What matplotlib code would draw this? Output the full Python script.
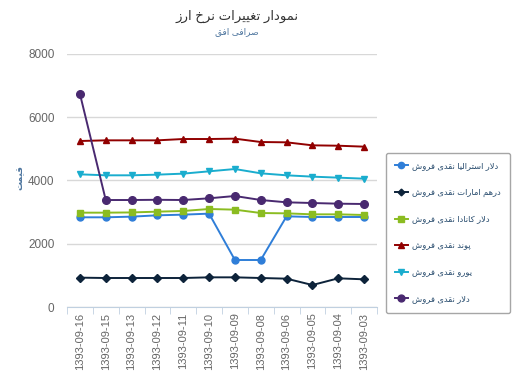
import matplotlib
matplotlib.use('Agg')
import matplotlib.pyplot as plt

dates = ['1393-09-16', '1393-09-15', '1393-09-13', '1393-09-12', '1393-09-11', '1393-09-10',
         '1393-09-09', '1393-09-08', '1393-09-06', '1393-09-05', '1393-09-04', '1393-09-03']

aud = [2836, 2836, 2857, 2899, 2920, 2952, 1486, 1486, 2867, 2846, 2846, 2846]
aed = [928, 917, 917, 917, 917, 938, 938, 917, 896, 695, 907, 875]
cad = [2983, 2983, 2990, 3015, 3036, 3099, 3078, 2972, 2961, 2930, 2930, 2909]
gbp = [5249, 5270, 5270, 5270, 5312, 5312, 5323, 5217, 5207, 5112, 5100, 5070]
eur = [4195, 4164, 4164, 4185, 4217, 4290, 4363, 4227, 4164, 4122, 4090, 4058]
usd = [6740, 3383, 3383, 3390, 3383, 3437, 3510, 3383, 3310, 3288, 3267, 3257]

names = ['دلار استرالیا نقدی فروش', 'درهم امارات نقدی فروش', 'دلار کانادا نقدی فروش',
         'پوند نقدی فروش', 'یورو نقدی فروش', 'دلار نقدی فروش']
title = 'نمودار تغییرات نرخ ارز'
subtitle = 'صرافی افق'
ylabel = 'قیمت'

# presentation forms: isolated, final, initial, medial
FORMS = {
    'ا': ('\uFE8D', '\uFE8E', None, None),
    'ب': ('\uFE8F', '\uFE90', '\uFE91', '\uFE92'),
    'ت': ('\uFE95', '\uFE96', '\uFE97', '\uFE98'),
    'خ': ('\uFEA5', '\uFEA6', '\uFEA7', '\uFEA8'),
    'د': ('\uFEA9', '\uFEAA', None, None),
    'ر': ('\uFEAD', '\uFEAE', None, None),
    'ز': ('\uFEAF', '\uFEB0', None, None),
    'س': ('\uFEB1', '\uFEB2', '\uFEB3', '\uFEB4'),
    'ش': ('\uFEB5', '\uFEB6', '\uFEB7', '\uFEB8'),
    'ص': ('\uFEB9', '\uFEBA', '\uFEBB', '\uFEBC'),
    'غ': ('\uFECD', '\uFECE', '\uFECF', '\uFED0'),
    'ف': ('\uFED1', '\uFED2', '\uFED3', '\uFED4'),
    'ق': ('\uFED5', '\uFED6', '\uFED7', '\uFED8'),
    'ل': ('\uFEDD', '\uFEDE', '\uFEDF', '\uFEE0'),
    'م': ('\uFEE1', '\uFEE2', '\uFEE3', '\uFEE4'),
    'ن': ('\uFEE5', '\uFEE6', '\uFEE7', '\uFEE8'),
    'ه': ('\uFEE9', '\uFEEA', '\uFEEB', '\uFEEC'),
    'و': ('\uFEED', '\uFEEE', None, None),
    'پ': ('\uFB56', '\uFB57', '\uFB58', '\uFB59'),
    'ک': ('\uFB8E', '\uFB8F', '\uFB90', '\uFB91'),
    'ی': ('\uFBFC', '\uFBFD', '\uFBFE', '\uFBFF'),
}


def joins_left(c):
    return c in FORMS and FORMS[c][2] is not None


def shape(text):
    # matplotlib has no arabic shaping, so pick the glyph forms by hand and reverse
    out = []
    i = 0
    n = len(text)
    while i < n:
        c = text[i]
        if c not in FORMS:
            out.append(c)
            i += 1
            continue
        prev = text[i - 1] if i > 0 else ''
        after_join = joins_left(prev)
        if c == 'ل' and i + 1 < n and text[i + 1] == 'ا':
            out.append('\uFEFC' if after_join else '\uFEFB')
            i += 2
            continue
        nxt = text[i + 1] if i + 1 < n else ''
        before_join = joins_left(c) and nxt in FORMS
        iso, fin, ini, med = FORMS[c]
        if after_join and before_join:
            out.append(med)
        elif after_join:
            out.append(fin)
        elif before_join:
            out.append(ini)
        else:
            out.append(iso)
        i += 1
    return ''.join(reversed(out))


colors = ['#2f7ed8', '#0d233a', '#8bbc21', '#910000', '#1aadce', '#492970']
markers = ['o', 'D', 's', '^', 'v', 'o']
sizes = [5, 3.8, 5, 5, 5, 5.5]
series = [aud, aed, cad, gbp, eur, usd]

plt.rcParams['font.family'] = ['Liberation Sans', 'DejaVu Sans']

fig = plt.figure(figsize=(5.12, 3.74), dpi=100)
ax = fig.add_axes([67 / 512, 1 - 307 / 374, 310 / 512, 253 / 374])

x = list(range(len(dates)))
for vals, name, col, mk, ms in zip(series, names, colors, markers, sizes):
    ax.plot(x, vals, color=col, marker=mk, markersize=ms, linewidth=1.4,
            label=shape(name), zorder=3)

ax.set_ylim(0, 8000)
ax.set_xlim(-0.5, len(dates) - 0.5)
ax.set_yticks([0, 2000, 4000, 6000, 8000])
ax.yaxis.grid(True, color='#d8d8d8', linewidth=1)
ax.set_axisbelow(True)
for side in ['top', 'right', 'left']:
    ax.spines[side].set_visible(False)
ax.spines['bottom'].set_color('#c0d0e0')
ax.tick_params(axis='y', length=0, labelsize=8.5, labelcolor='#666666', pad=9)

ax.set_xticks(x)
ax.set_xticklabels(dates, rotation=90, fontsize=8, color='#666666')
ax.tick_params(axis='x', length=0, pad=4)
ax.set_xticks([i - 0.5 for i in range(len(dates) + 1)], minor=True)
ax.tick_params(axis='x', which='minor', length=5, color='#c0d0e0')

fig.text(237 / 512, 1 - 16 / 374, shape(title), ha='center', va='center',
         fontsize=9.5, color='#333333')
fig.text(237 / 512, 1 - 32 / 374, shape(subtitle), ha='center', va='center',
         fontsize=6.5, color='#4d759e')
fig.text(20 / 512, 1 - 177 / 374, shape(ylabel), rotation=90, ha='center', va='center',
         fontsize=6.5, color='#4d759e', fontweight='bold')

leg = fig.legend(loc='upper left', bbox_to_anchor=(386 / 512, 1 - 153 / 374),
                 fontsize=6.0, frameon=True, handlelength=1.5, labelspacing=2.25,
                 borderpad=1.1, borderaxespad=0, handletextpad=0.5, fancybox=True,
                 markerscale=0.9)
leg.get_frame().set_edgecolor('#909090')
leg.get_frame().set_linewidth(1)
for t in leg.get_texts():
    t.set_color('#274b6d')

fig.savefig('out.png', dpi=100)
